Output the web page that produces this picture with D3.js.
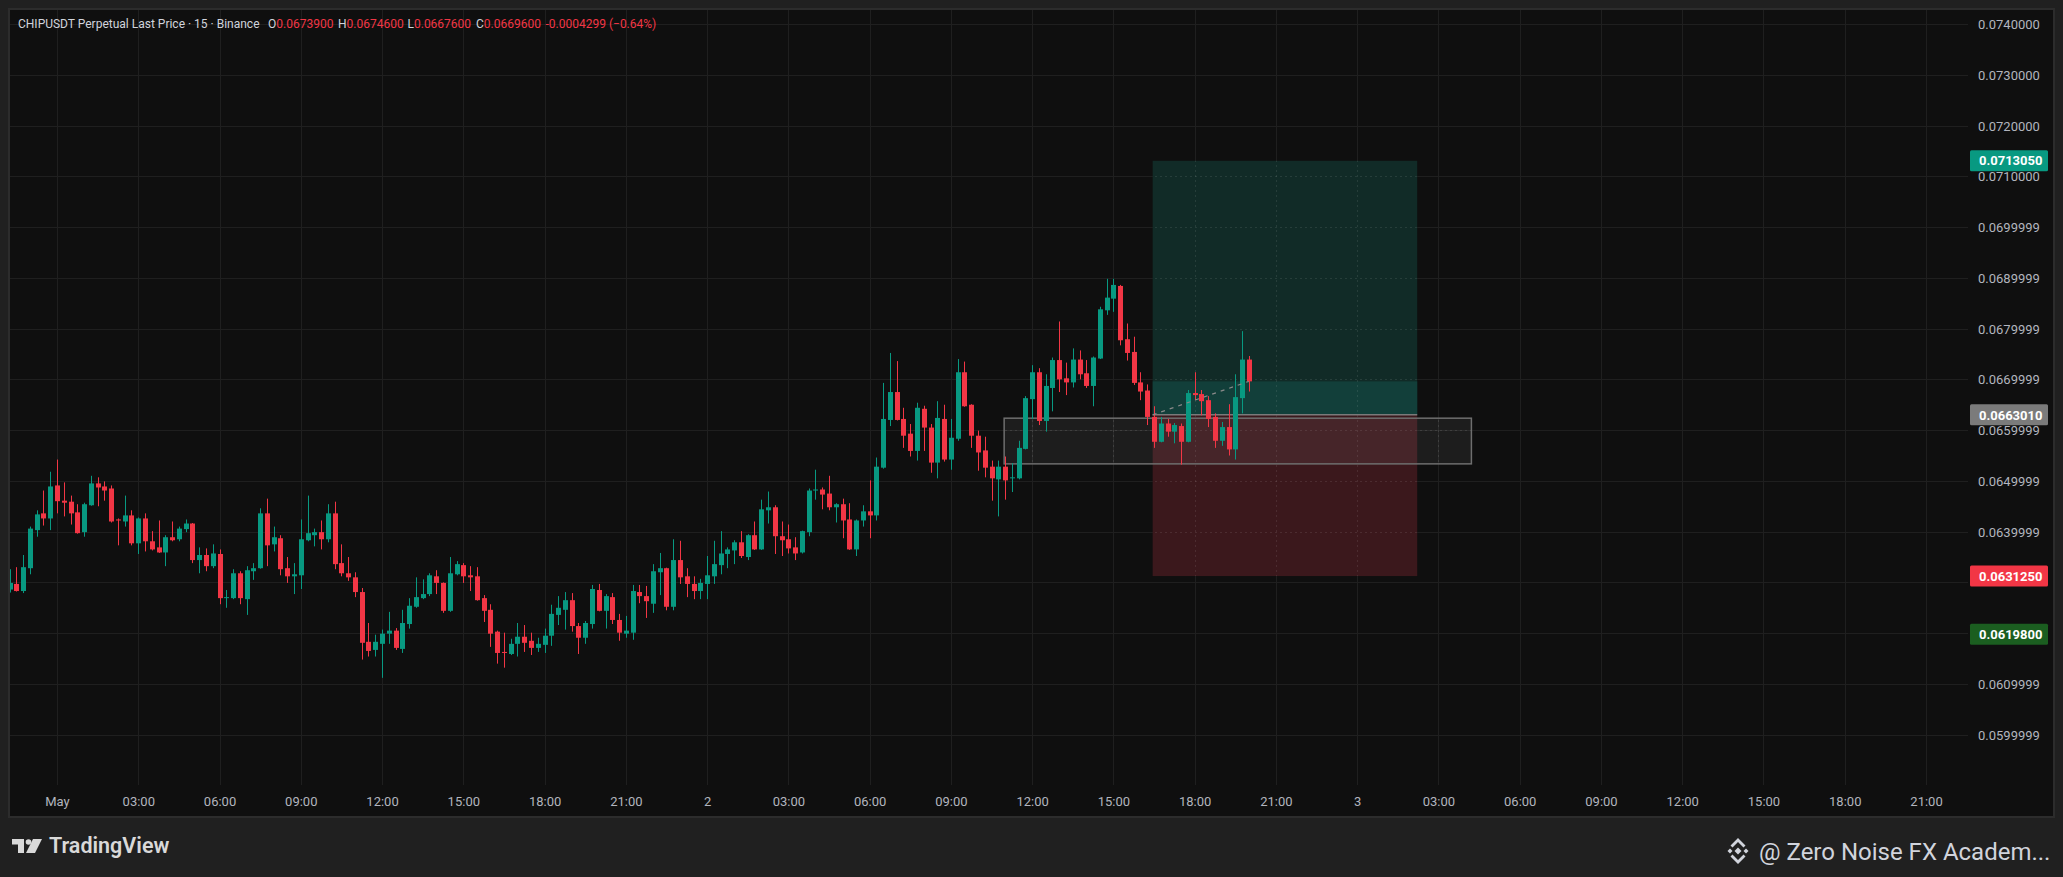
<!DOCTYPE html>
<html>
<head>
<meta charset="utf-8">
<script src="https://cdn.jsdelivr.net/npm/d3@7"></script>
<style>
html, body { margin: 0; padding: 0; background: #202020; overflow: hidden; }
svg { display: block; font-family: Roboto, "Noto Sans", sans-serif; }
</style>
</head>
<body>
<svg id="chart" width="2063" height="877"></svg>
<script>
// ---- data (15 minute bars, first bar at 2025-04-30 22:15 UTC) ----
var firstBar = "2025-04-30T22:15:00Z";

var opens = [
  .06286,.06297,.06283,.06328,.06403,.06436,.06426,
  .06491,.06461,.06459,.06438,.06399,.06452,.06495,.06489,.06485,.06424,.06420,.06432,.06377,.06426,.06381,.06369,
  .06359,.06389,.06385,.06405,.06416,.06344,.06354,.06332,.06356,.06269,.06269,.06318,.06267,.06322,.06328,.06436,
  .06375,.06387,.06328,.06312,.06314,.06383,.06393,.06399,.06385,.06436,.06338,.06318,.06310,.06281,.06183,.06167,
  .06179,.06199,.06205,.06169,.06218,.06252,.06269,.06277,.06312,.06299,.06244,.06316,.06334,.06314,.06312,.06269,
  .06246,.06203,.06163,.06159,.06179,.06193,.06185,.06171,.06177,.06195,.06236,.06246,.06265,.06214,.06191,.06218,
  .06285,.06244,.06271,.06226,.06199,.06201,.06281,.06273,.06258,.06320,.06328,.06252,.06344,.06312,.06297,.06283,
  .06297,.06312,.06334,.06356,.06363,.06379,.06350,.06393,.06365,.06442,.06448,.06391,.06385,.06369,.06359,.06399,
  .06481,.06483,.06475,.06448,.06454,.06424,.06365,.06422,.06440,.06432,.06526,.06620,.06675,.06622,.06593,.06559,
  .06642,.06605,.06536,.06622,.06542,.06583,.06714,.06650,.06589,.06560,.06528,.06503,.06528,.06505,.06505,.06563,
  .06661,.06714,.06618,.06683,.06738,.06702,.06694,.06739,.06712,.06687,.06741,.06836,.06859,.06884,.06779,.06754,
  .06694,.06678,.06626,.06577,.06613,.06597,.06608,.06577,.06673,.06671,.06659,.06626,.06579,.06606,.06562,.06663,
  .06739
];
var highs = [
  .06326,.06330,.06354,.06410,.06442,.06481,.06518,
  .06542,.06497,.06471,.06454,.06457,.06510,.06507,.06499,.06491,.06426,.06471,.06442,.06428,.06436,.06401,.06422,
  .06393,.06420,.06410,.06424,.06417,.06369,.06367,.06375,.06365,.06285,.06326,.06322,.06332,.06338,.06446,.06465,
  .06410,.06393,.06350,.06338,.06424,.06471,.06406,.06422,.06454,.06459,.06375,.06350,.06320,.06289,.06220,.06197,
  .06207,.06242,.06210,.06246,.06269,.06310,.06306,.06318,.06324,.06300,.06350,.06342,.06338,.06332,.06330,.06275,
  .06257,.06205,.06201,.06189,.06220,.06216,.06201,.06191,.06209,.06256,.06273,.06281,.06279,.06220,.06224,.06295,
  .06297,.06277,.06279,.06238,.06234,.06295,.06295,.06293,.06336,.06358,.06329,.06385,.06382,.06328,.06312,.06307,
  .06352,.06382,.06401,.06369,.06383,.06401,.06395,.06420,.06463,.06479,.06452,.06420,.06414,.06389,.06402,.06485,
  .06522,.06487,.06510,.06456,.06465,.06456,.06424,.06452,.06501,.06546,.06693,.06752,.06736,.06644,.06612,.06654,
  .06648,.06612,.06657,.06650,.06622,.06740,.06735,.06651,.06599,.06587,.06540,.06540,.06548,.06535,.06579,.06667,
  .06728,.06722,.06710,.06743,.06814,.06733,.06761,.06757,.06738,.06745,.06843,.06898,.06898,.06886,.06810,.06784,
  .06714,.06690,.06647,.06626,.06622,.06614,.06613,.06679,.06714,.06679,.06667,.06633,.06616,.06651,.06710,.06795,
  .06746
];
var lows = [
  .06280,.06282,.06279,.06316,.06390,.06412,.06403,
  .06436,.06430,.06414,.06396,.06390,.06451,.06450,.06461,.06418,.06373,.06410,.06373,.06356,.06361,.06363,.06358,
  .06332,.06381,.06381,.06399,.06338,.06318,.06322,.06328,.06257,.06250,.06267,.06257,.06236,.06305,.06327,.06332,
  .06361,.06314,.06299,.06277,.06287,.06381,.06371,.06365,.06379,.06326,.06312,.06303,.06271,.06148,.06154,.06154,
  .06112,.06179,.06167,.06161,.06209,.06250,.06267,.06273,.06277,.06240,.06242,.06314,.06299,.06283,.06264,.06222,
  .06173,.06140,.06132,.06157,.06154,.06163,.06157,.06163,.06161,.06175,.06216,.06207,.06203,.06159,.06179,.06209,
  .06243,.06209,.06218,.06185,.06191,.06187,.06259,.06230,.06240,.06275,.06245,.06245,.06297,.06271,.06267,.06267,
  .06267,.06297,.06316,.06328,.06336,.06348,.06344,.06364,.06364,.06416,.06356,.06352,.06357,.06344,.06357,.06391,
  .06463,.06444,.06442,.06418,.06387,.06364,.06352,.06410,.06387,.06422,.06524,.06608,.06619,.06565,.06548,.06540,
  .06559,.06516,.06505,.06538,.06522,.06579,.06646,.06565,.06520,.06507,.06461,.06430,.06463,.06478,.06503,.06562,
  .06622,.06610,.06597,.06637,.06675,.06669,.06684,.06700,.06683,.06647,.06740,.06827,.06833,.06767,.06737,.06689,
  .06659,.06610,.06565,.06576,.06587,.06574,.06532,.06576,.06659,.06629,.06606,.06565,.06569,.06550,.06542,.06633,
  .06676
];
var closes = [
  .06299,.06283,.06330,.06406,.06434,.06426,.06489,
  .06460,.06457,.06436,.06397,.06454,.06495,.06487,.06481,.06420,.06422,.06432,.06377,.06426,.06381,.06365,.06359,
  .06389,.06383,.06406,.06416,.06344,.06354,.06332,.06357,.06269,.06271,.06318,.06269,.06324,.06328,.06436,.06373,
  .06389,.06326,.06312,.06316,.06385,.06397,.06399,.06385,.06436,.06336,.06318,.06310,.06281,.06181,.06165,.06183,
  .06199,.06205,.06171,.06220,.06254,.06271,.06277,.06314,.06299,.06244,.06318,.06336,.06312,.06310,.06265,.06244,
  .06199,.06161,.06161,.06179,.06193,.06181,.06171,.06179,.06195,.06238,.06250,.06265,.06214,.06191,.06220,.06287,
  .06244,.06273,.06226,.06201,.06205,.06283,.06273,.06263,.06322,.06328,.06252,.06344,.06310,.06297,.06283,.06299,
  .06314,.06336,.06357,.06365,.06379,.06352,.06393,.06365,.06444,.06448,.06391,.06383,.06367,.06357,.06401,.06481,
  .06483,.06473,.06448,.06454,.06422,.06365,.06422,.06440,.06432,.06528,.06622,.06675,.06620,.06589,.06559,.06644,
  .06605,.06536,.06624,.06542,.06585,.06714,.06647,.06589,.06556,.06526,.06505,.06528,.06501,.06507,.06565,.06663,
  .06714,.06618,.06687,.06738,.06700,.06694,.06739,.06710,.06687,.06743,.06838,.06861,.06886,.06777,.06752,.06693,
  .06676,.06626,.06577,.06613,.06597,.06610,.06577,.06673,.06669,.06657,.06622,.06579,.06606,.06562,.06665,.06739,
  .06696
];

var priceTicks = [0.074, 0.073, 0.072, 0.071, 0.070, 0.069, 0.068, 0.067, 0.066, 0.065, 0.064, 0.063, 0.062, 0.061, 0.060];
var priceTickLabels = ["0.0740000","0.0730000","0.0720000","0.0710000","0.0699999","0.0689999","0.0679999",
  "0.0669999","0.0659999","0.0649999","0.0639999","0.0629999","0.0619999","0.0609999","0.0599999"];
var timeTickLabels = ["May","03:00","06:00","09:00","12:00","15:00","18:00","21:00",
  "2","03:00","06:00","09:00","12:00","15:00","18:00","21:00",
  "3","03:00","06:00","09:00","12:00","15:00","18:00","21:00"];

// long position tool: target / entry / stop, and the box it spans
var posPrices = {target: 0.071305, entry: 0.066301, stop: 0.063125};
var posTimes = ["2025-05-02T16:27:00Z", "2025-05-03T02:13:00Z"];
// plain rectangle drawing
var rectPrices = [0.066235, 0.065335];
var rectTimes = ["2025-05-02T10:58:00Z", "2025-05-03T04:13:00Z"];

var badgeValues = [0.071305, 0.066301, 0.063125, 0.06198];
var badgeColors = ["#089981", "#7b7b7b", "#f23645", "#1b5e20"];

var headerParts = [
  {label: "CHIPUSDT Perpetual Last Price · 15 · Binance", value: "", x: 18},
  {label: "O", value: "0.0673900", x: 268},
  {label: "H", value: "0.0674600", x: 338},
  {label: "L", value: "0.0667600", x: 407.5},
  {label: "C", value: "0.0669600", x: 476},
  {label: "", value: "-0.0004299 (\u22120.64%)", x: 545.5}
];

// ---- layout ----
var svg = d3.select("#chart"),
    plot = {left: 10, top: 10, right: 1968, bottom: 785};

var upColor = "#089981", downColor = "#f23645", gridColor = "#1f1f1f";

var x = d3.scaleUtc()
    .domain([new Date("2025-04-30T22:15:54Z"), new Date("2025-05-03T22:33:00Z")])
    .range([plot.left, plot.right]);
var y = d3.scaleLinear()
    .domain([0.059009, 0.074276])
    .range([plot.bottom, plot.top]);

var t0 = new Date(firstBar);
var bars = opens.map(function(o, i) {
  return {t: d3.utcMinute.offset(t0, 15 * i), o: o, h: highs[i], l: lows[i], c: closes[i]};
});
var timeTicks = d3.utcHour.every(3).range(new Date("2025-05-01T00:00:00Z"), new Date("2025-05-03T23:00:00Z"));

// panel
svg.append("rect")
    .attr("x", 9).attr("y", 9).attr("width", 2045).attr("height", 808)
    .attr("fill", "#0f0f0f").attr("stroke", "#2c2c2c").attr("stroke-width", 2);

svg.append("defs").append("clipPath").attr("id", "plotclip")
  .append("rect")
    .attr("x", plot.left).attr("y", plot.top)
    .attr("width", plot.right - plot.left).attr("height", plot.bottom - plot.top);

var g = svg.append("g").attr("clip-path", "url(#plotclip)");

// grid
var grid = g.append("g").attr("class", "grid");
grid.selectAll(".hgrid").data(priceTicks).enter().append("line")
    .attr("x1", plot.left).attr("x2", plot.right)
    .attr("y1", function(d) { return Math.round(y(d)) + 0.5; })
    .attr("y2", function(d) { return Math.round(y(d)) + 0.5; })
    .attr("stroke", gridColor);
grid.selectAll(".vgrid").data(timeTicks).enter().append("line")
    .attr("y1", plot.top).attr("y2", plot.bottom)
    .attr("x1", function(d) { return Math.round(x(d)) + 0.5; })
    .attr("x2", function(d) { return Math.round(x(d)) + 0.5; })
    .attr("stroke", gridColor);

// long position box
var lastBar = bars[bars.length - 1];
var px0 = x(new Date(posTimes[0])), px1 = x(new Date(posTimes[1]));
g.append("rect")
    .attr("x", px0).attr("width", px1 - px0)
    .attr("y", y(posPrices.target)).attr("height", y(posPrices.entry) - y(posPrices.target))
    .attr("fill", "#112b27");
g.append("rect")
    .attr("x", px0).attr("width", px1 - px0)
    .attr("y", y(posPrices.entry)).attr("height", y(posPrices.stop) - y(posPrices.entry))
    .attr("fill", "#3b181c");
// open profit zone: entry -> last close
g.append("rect")
    .attr("x", px0).attr("width", px1 - px0)
    .attr("y", y(lastBar.c)).attr("height", y(posPrices.entry) - y(lastBar.c))
    .attr("fill", "#123f3a");

// dotted grid over the drawings
var rx0 = x(new Date(rectTimes[0])), rx1 = x(new Date(rectTimes[1]));
var dclip = svg.select("defs").append("clipPath").attr("id", "drawclip");
dclip.append("rect").attr("x", px0).attr("width", px1 - px0)
    .attr("y", y(posPrices.target)).attr("height", y(posPrices.stop) - y(posPrices.target));
dclip.append("rect").attr("x", rx0).attr("width", rx1 - rx0)
    .attr("y", y(rectPrices[0])).attr("height", y(rectPrices[1]) - y(rectPrices[0]));
var dg = g.append("g").attr("clip-path", "url(#drawclip)");
dg.selectAll(".hd").data(priceTicks).enter().append("line")
    .attr("x1", plot.left).attr("x2", plot.right)
    .attr("y1", function(d) { return Math.round(y(d)) + 0.5; })
    .attr("y2", function(d) { return Math.round(y(d)) + 0.5; })
    .attr("stroke", "rgba(255,255,255,0.09)").attr("stroke-dasharray", "2,3");
dg.selectAll(".vd").data(timeTicks).enter().append("line")
    .attr("y1", plot.top).attr("y2", plot.bottom)
    .attr("x1", function(d) { return Math.round(x(d)) + 0.5; })
    .attr("x2", function(d) { return Math.round(x(d)) + 0.5; })
    .attr("stroke", "rgba(255,255,255,0.09)").attr("stroke-dasharray", "2,3");

// rectangle drawing
g.append("rect")
    .attr("x", rx0).attr("width", rx1 - rx0)
    .attr("y", y(rectPrices[0])).attr("height", y(rectPrices[1]) - y(rectPrices[0]))
    .attr("fill", "rgba(255,255,255,0.06)")
    .attr("stroke", "#6e6e6e").attr("stroke-width", 1.5);

// entry line
g.append("line")
    .attr("x1", px0).attr("x2", px1)
    .attr("y1", y(posPrices.entry)).attr("y2", y(posPrices.entry))
    .attr("stroke", "#7a7a7a").attr("stroke-width", 1.5);

// candles
var bodyW = 5;
var candle = g.append("g").selectAll(".candle").data(bars).enter().append("g")
    .attr("class", "candle");
candle.append("line")
    .attr("x1", function(d) { return Math.round(x(d.t)) + 0.5; })
    .attr("x2", function(d) { return Math.round(x(d.t)) + 0.5; })
    .attr("y1", function(d) { return y(d.h); })
    .attr("y2", function(d) { return y(d.l); })
    .attr("stroke", function(d) { return d.c >= d.o ? upColor : downColor; })
    .attr("stroke-width", 1);
candle.append("rect")
    .attr("x", function(d) { return Math.round(x(d.t)) + 0.5 - bodyW / 2; })
    .attr("width", bodyW)
    .attr("y", function(d) { return y(Math.max(d.o, d.c)); })
    .attr("height", function(d) { return Math.max(1, Math.abs(y(d.o) - y(d.c))); })
    .attr("fill", function(d) { return d.c >= d.o ? upColor : downColor; });

// dashed line entry -> current price
g.append("line")
    .attr("x1", px0).attr("y1", y(posPrices.entry))
    .attr("x2", x(lastBar.t)).attr("y2", y(lastBar.c))
    .attr("stroke", "#8a8a8a").attr("stroke-width", 1.2)
    .attr("stroke-dasharray", "4,5");

// price axis (labels hidden where a price badge sits on top of them)
function underBadge(v) {
  return badgeValues.some(function(b) { return Math.abs(y(b) - y(v)) < 9; });
}
svg.append("g")
    .attr("transform", "translate(" + (plot.right + 10) + ",0)")
    .call(d3.axisRight(y).tickValues(priceTicks.filter(function(v) { return !underBadge(v); }))
      .tickSize(0)
      .tickFormat(function(d) { return priceTickLabels[priceTicks.indexOf(d)]; }))
    .call(function(a) {
      a.select(".domain").remove();
      a.selectAll("text").attr("x", 0).attr("dy", "0.35em")
        .attr("fill", "#b2b5be").style("font-size", "13px")
        .style("font-family", "Roboto, sans-serif");
    });

// time axis
svg.append("g")
    .attr("transform", "translate(0," + plot.bottom + ")")
    .call(d3.axisBottom(x).tickValues(timeTicks).tickSize(0)
      .tickFormat(function(d, i) { return timeTickLabels[i]; }))
    .call(function(a) {
      a.select(".domain").remove();
      a.selectAll("text").attr("y", 16).attr("dy", "0.35em")
        .attr("fill", "#b2b5be").style("font-size", "13px")
        .style("font-family", "Roboto, sans-serif");
    });

// price badges
var badge = svg.append("g").selectAll(".badge").data(badgeValues).enter().append("g");
badge.append("rect")
    .attr("x", 1970).attr("width", 78)
    .attr("y", function(d) { return y(d) - 10.5; }).attr("height", 21)
    .attr("rx", 1.5)
    .attr("fill", function(d, i) { return badgeColors[i]; });
badge.append("text")
    .attr("x", 1979).attr("y", function(d) { return y(d); }).attr("dy", "0.36em")
    .attr("fill", "#ffffff").style("font-size", "13px").style("font-weight", "700")
    .text(function(d) { return d3.format(".7f")(d); });

// header
var head = svg.append("g").selectAll(".head").data(headerParts).enter().append("text")
    .attr("x", function(d) { return d.x; }).attr("y", 28)
    .style("font-size", "12px");
head.append("tspan").attr("fill", "#d1d4dc").text(function(d) { return d.label; });
head.append("tspan").attr("fill", downColor).text(function(d) { return d.value; });

// footer: TradingView mark
var logo = svg.append("g").attr("fill", "#d9d9d9");
logo.append("rect").attr("x", 12).attr("y", 839).attr("width", 12).attr("height", 5.5);
logo.append("rect").attr("x", 18).attr("y", 839).attr("width", 6).attr("height", 14);
logo.append("circle").attr("cx", 28.5).attr("cy", 842).attr("r", 2.8);
logo.append("polygon").attr("points", "33,839 42,839 35,853 26,853");
svg.append("text")
    .attr("x", 49).attr("y", 853)
    .attr("fill", "#d9d9d9").style("font-size", "21.5px").style("font-weight", "600")
    .text("TradingView");

// footer: author
var mark = svg.append("g").attr("transform", "translate(1738,851)").attr("fill", "#d1d4dc");
mark.append("polygon").attr("points", "0,-3.5 3.5,0 0,3.5 -3.5,0");
mark.append("polygon").attr("points", "-8,-2.5 -5.5,0 -8,2.5 -10.5,0");
mark.append("polygon").attr("points", "8,-2.5 10.5,0 8,2.5 5.5,0");
mark.append("polygon").attr("points", "0,-13 7.5,-5.5 5.5,-3.5 0,-9 -5.5,-3.5 -7.5,-5.5");
mark.append("polygon").attr("points", "0,13 7.5,5.5 5.5,3.5 0,9 -5.5,3.5 -7.5,5.5");
svg.append("text")
    .attr("x", 1759).attr("y", 860)
    .attr("fill", "#d1d4dc").style("font-size", "24px")
    .text("@ Zero Noise FX Academ...");
</script>
</body>
</html>
